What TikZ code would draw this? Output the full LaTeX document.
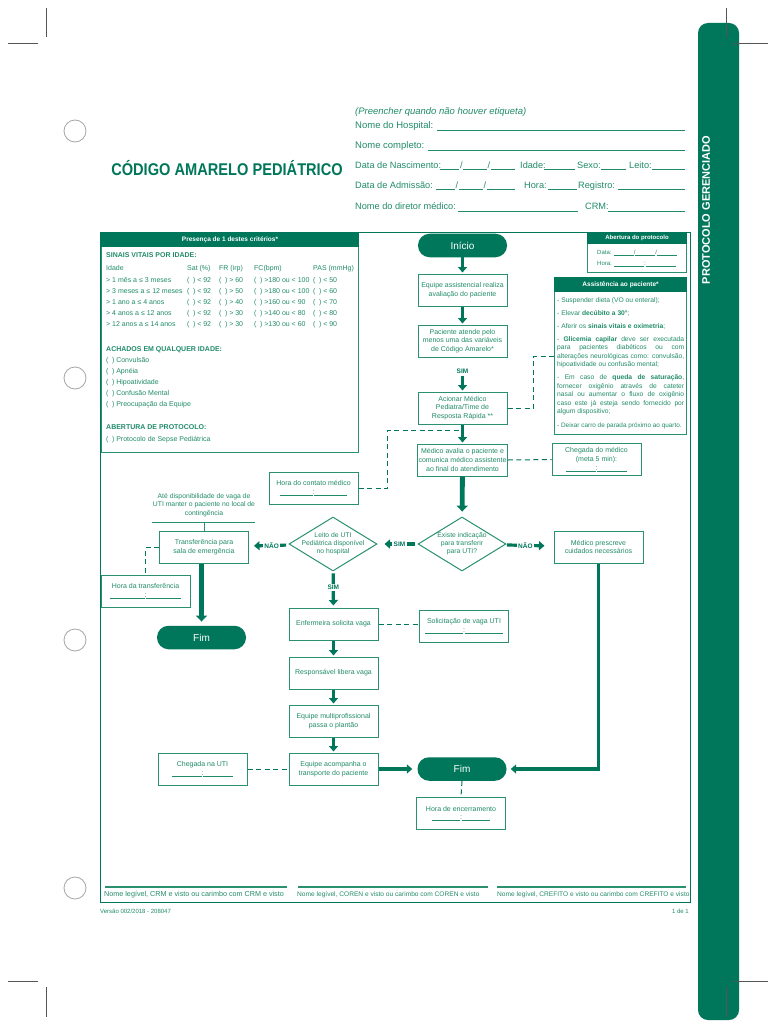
\documentclass[tikz,border=0pt]{standalone}
\usepackage{fontspec}
\setmainfont{Liberation Sans}
\usetikzlibrary{shapes.geometric,arrows.meta,calc}
\definecolor{gdark}{HTML}{00775B}
\definecolor{gtext}{HTML}{208B6A}
\definecolor{gline}{HTML}{2A9070}
\definecolor{cropc}{HTML}{555555}
\newcommand{\fsz}[2]{\fontsize{#1pt}{#2pt}\selectfont}
\newcommand{\bl}[1]{\rule[-1.3pt]{#1pt}{0.6pt}}
\newcommand{\fl}[3]{\draw[fline] (#1,#3+1.3) -- (#2,#3+1.3);}
\tikzset{
  panel/.style={draw=gline, line width=1.1pt, inner sep=0pt, anchor=north west},
  box/.style={draw=gline, line width=1pt, text=gtext, font=\fsz{7}{8.7}, align=center, inner sep=1pt, minimum width=89pt, minimum height=32pt},
  pill/.style={fill=gdark, rounded corners=11.5pt, text=white, font=\fsz{10}{12}, minimum width=89pt, minimum height=23.5pt, inner sep=0pt},
  diam/.style={diamond, draw=gline, line width=1pt, minimum width=88pt, minimum height=54pt, inner sep=0pt},
  dtext/.style={text=gtext, font=\fsz{6.8}{7.8}, align=center, inner sep=0pt},
  flowarrow/.style={draw=gdark, line width=3.2pt, -{Triangle[width=9pt,length=5.5pt]}},
  bigarrow/.style={draw=gdark, line width=4.8pt, -{Triangle[width=11pt,length=6pt]}},
  dashlink/.style={draw=gdark, line width=1pt, dash pattern=on 5pt off 3.5pt},
  lbl/.style={fill=white, text=gdark, font=\bfseries\fsz{6.5}{7}, inner sep=1.5pt},
  tcell/.style={anchor=base west, inner sep=0pt, font=\fsz{7}{8}, text=gtext},
  tbold/.style={tcell, font=\bfseries\fsz{7}{8}},
  hdr/.style={text=white, font=\bfseries\fsz{6.5}{7}, inner sep=0pt},
  field/.style={anchor=base west, inner sep=0pt, font=\fsz{9.2}{11}, text=gtext},
  fline/.style={draw=gtext, line width=0.6pt},
  cropm/.style={draw=cropc, line width=1pt},
  hole/.style={draw=gray!70, line width=0.8pt},
  sigline/.style={draw=gline, line width=1.3pt},
  sigtext/.style={text=gtext, font=\fsz{6.6}{8}, inner sep=0pt, anchor=base west},
}
\begin{document}
\begin{tikzpicture}[x=1pt,y=-1pt]
\useasboundingbox (0,0) rectangle (768,1024);
\fill[white] (0,0) rectangle (768,1024);

% side tab
\fill[gdark, rounded corners=10pt] (698,23) rectangle (739,1020);
\node[rotate=90, text=white, font=\bfseries\fsz{11}{13}, inner sep=0pt] (tabtxt) at (706,210) {PROTOCOLO GERENCIADO};

% crop marks
\draw[cropm] (46,8) -- (46,37);
\draw[cropm] (8,44) -- (38,44);
\draw[cropm] (726,8) -- (726,37);
\draw[cropm] (733,44) -- (768,44);
\draw[cropm] (46,987) -- (46,1017);
\draw[cropm] (8,981) -- (38,981);
\draw[cropm] (726,987) -- (726,1017);
\draw[cropm] (733,981) -- (768,981);

% punch holes
\foreach \yy in {131,378,640,888} \draw[hole] (75,\yy) circle[radius=11pt];

% title
\node[font=\bfseries\fsz{17}{20}, text=gdark, inner sep=0pt] (title) at (227,168) {\scalebox{0.86}[1]{CÓDIGO AMARELO PEDIÁTRICO}};

% header fields
\node[field, font=\itshape\fsz{9.5}{11}] (h0) at (355,114.5) {(Preencher quando não houver etiqueta)};
\node[field, font=\fsz{9.5}{11}] (h1) at (355,129) {Nome do Hospital:};
\fl{437}{685}{129}
\node[field, font=\fsz{9.5}{11}] (h2) at (355,149) {Nome completo:};
\fl{428}{685}{149}
\node[field] (h3a) at (355,168.5) {Data de Nascimento:};
\fl{440}{459}{168.5}
\node[field] (h3s1) at (460,168.5) {/};
\fl{463}{487}{168.5}
\node[field] (h3s2) at (487.5,168.5) {/};
\fl{491}{515}{168.5}
\node[field] (h3b) at (520,168.5) {Idade:};
\fl{544}{575}{168.5}
\node[field] (h3c) at (577,168.5) {Sexo:};
\fl{601}{626}{168.5}
\node[field] (h3d) at (629,168.5) {Leito:};
\fl{652}{685}{168.5}
\node[field] (h4a) at (355,188.5) {Data de Admissão:};
\fl{436}{455}{188.5}
\node[field] (h4s1) at (455.5,188.5) {/};
\fl{459}{483}{188.5}
\node[field] (h4s2) at (483.5,188.5) {/};
\fl{487}{515}{188.5}
\node[field] (h4b) at (524,188.5) {Hora:};
\fl{548}{577}{188.5}
\node[field] (h4c) at (578,188.5) {Registro:};
\fl{618}{685}{188.5}
\node[field] (h5a) at (355,210) {Nome do diretor médico:};
\fl{458}{578}{210}
\node[field] (h5b) at (585,210) {CRM:};
\fl{608}{685}{210}

% main frame
\node[draw=gdark, line width=1.4pt, minimum width=590pt, minimum height=670pt, anchor=north west, inner sep=0pt] (frame) at (100,232) {};

% criteria panel
\node[panel, minimum width=257pt, minimum height=219pt] (crit) at (101,233) {};
\fill[gdark] (crit.north west) rectangle ($(crit.north east)+(0,14)$);
\node[hdr] (crithdr) at ($(crit.north)+(0,7)$) {Presença de 1 destes critérios*};
\node[tbold] (sv) at (106,258) {SINAIS VITAIS POR IDADE:};
\node[tcell] (ch1) at (106,270.5) {Idade};
\node[tcell] (ch2) at (187,270.5) {Sat (\%)};
\node[tcell] (ch3) at (219,270.5) {FR (irp)};
\node[tcell] (ch4) at (254,270.5) {FC(bpm)};
\node[tcell] (ch5) at (313,270.5) {PAS (mmHg)};
\foreach \yy/\ca/\cb/\cc/\cd/\ce [count=\i] in {
  282.5/{> 1 mês a ≤ 3 meses}/{< 92}/{> 60}/{>180 ou < 100}/{< 50},
  293.5/{> 3 meses a ≤ 12 meses}/{< 92}/{> 50}/{>180 ou < 100}/{< 60},
  304.5/{> 1 ano a ≤ 4 anos}/{< 92}/{> 40}/{>160 ou < 90}/{< 70},
  315.5/{> 4 anos a ≤ 12 anos}/{< 92}/{> 30}/{>140 ou < 80}/{< 80},
  326.5/{> 12 anos a ≤ 14 anos}/{< 92}/{> 30}/{>130 ou < 60}/{< 90}}{
  \node[tcell] (r\i a) at (106,\yy) {\ca};
  \node[tcell] (r\i b) at (187,\yy) {(\enspace) \cb};
  \node[tcell] (r\i c) at (219,\yy) {(\enspace) \cc};
  \node[tcell] (r\i d) at (254,\yy) {(\enspace) \cd};
  \node[tcell] (r\i e) at (313,\yy) {(\enspace) \ce};
}
\node[tbold] (ach) at (106,351.5) {ACHADOS EM QUALQUER IDADE:};
\foreach \yy/\tx [count=\i] in {362.5/Convulsão, 373.5/Apnéia, 384.5/Hipoatividade, 395.5/Confusão Mental, 406.5/Preocupação da Equipe}{
  \node[tcell] (a\i) at (106,\yy) {(\enspace) \tx};
}
\node[tbold] (abp) at (106,429.5) {ABERTURA DE PROTOCOLO:};
\node[tcell] (sepse) at (106,441.5) {(\enspace) Protocolo de Sepse Pediátrica};

% abertura do protocolo
\node[panel, minimum width=99pt, minimum height=39pt] (abert) at (587,233) {};
\fill[gdark] (abert.north west) rectangle ($(abert.north east)+(0,10.5)$);
\node[hdr, font=\bfseries\fsz{6}{7}] (aberthdr) at ($(abert.north)+(0,5.3)$) {Abertura do protocolo};
\node[tcell, font=\fsz{6}{7}] (adata) at (597,254.5) {Data: \bl{20}/\bl{20}/\bl{20}};
\node[tcell, font=\fsz{6}{7}] (ahora) at (597,265.5) {Hora: \bl{30}:\bl{30}};

% assistencia ao paciente
\node[panel, minimum width=132pt, minimum height=157pt] (assist) at (554,277) {};
\fill[gdark] (assist.north west) rectangle ($(assist.north east)+(0,15)$);
\node[hdr] (assisthdr) at ($(assist.north)+(0,7.5)$) {Assistência ao paciente*};
\node[anchor=north west, text width=127pt, inner sep=0pt, text=gtext, font=\fsz{6.7}{8.5}, align=justify] (assisttxt) at (557,297) {%
\setlength{\parskip}{4.6pt}\setlength{\parindent}{0pt}%
- Suspender dieta (VO ou enteral);\par
- Elevar \textbf{decúbito a 30°};\par
- Aferir os \textbf{sinais vitais e oximetria};\par
- \textbf{Glicemia capilar} deve ser executada\linebreak para pacientes diabéticos ou com\linebreak alterações neurológicas como: convulsão,\linebreak hipoatividade ou confusão mental;\par
- Em caso de \textbf{queda de saturação},\linebreak fornecer oxigênio através de cateter\linebreak nasal ou aumentar o fluxo de oxigênio\linebreak caso este já esteja sendo fornecido por\linebreak algum dispositivo;\par
{\fsz{6.4}{8.5}- Deixar carro de parada próximo ao quarto.\par}};

% flow nodes
\node[pill] (inicio) at (462.5,245.5) {Início};
\node[box] (b1) at (462.5,290) {Equipe assistencial realiza\\avaliação do paciente};
\node[box] (b2) at (462.5,341) {Paciente atende pelo\\menos uma das variáveis\\de Código Amarelo*};
\node[lbl] (sim1) at (462.5,371.5) {SIM};
\node[box] (b3) at (462.5,408) {Acionar Médico\\Pediatra/Time de\\Resposta Rápida **};
\node[box] (b4) at (462.5,460) {Médico avalia o paciente e\\comunica médico assistente\\ao final do atendimento};
\node[box] (chegmed) at (596.5,459.5) {Chegada do médico\\(meta 5 min):\\\bl{30}:\bl{30}};
\node[box] (hcont) at (313.5,488) {Hora do contato médico\\\bl{33}:\bl{33}};

\node[diam] (d1) at (462,544) {};
\node[dtext] (d1t) at (d1.center) {Existe indicação\\para transferir\\para UTI?};
\node[diam] (d2) at (333,544) {};
\node[dtext] (d2t) at (d2.center) {Leito de UTI\\Pediátrica disponível\\no hospital};
\node[box] (presc) at (598.5,547) {Médico prescreve\\cuidados necessários};
\node[box] (transf) at (204,547) {Transferência para\\sala de emergência};
\node[dtext, font=\fsz{6.8}{8.5}] (ate) at (204,505) {Até disponibilidade de vaga de\\UTI manter o paciente no local de\\contingência};
\coordinate (brl) at (152,522);
\coordinate (brr) at (255,522);
\coordinate (brm) at (204,522);
\node[box] (htransf) at (145.5,591) {Hora da transferência\\\bl{35}:\bl{35}};
\node[pill] (fim1) at (201.5,637.5) {Fim};

\node[box] (enf) at (333.5,624) {Enfermeira solicita vaga};
\node[box] (solic) at (464,626) {Solicitação de vaga UTI\\\bl{38}:\bl{38}};
\node[box] (resp) at (333.5,673) {Responsável libera vaga};
\node[box] (multi) at (333.5,721) {Equipe multiprofissional\\passa o plantão};
\node[box] (acomp) at (333.5,769) {Equipe acompanha o\\transporte do paciente};
\node[box] (cheguti) at (202.5,769) {Chegada na UTI\\\bl{30}:\bl{30}};
\node[pill] (fim2) at (462,769) {Fim};
\node[box] (henc) at (461,813.5) {Hora de encerramento\\\bl{28}:\bl{28}};

% solid connectors
\draw[flowarrow, shorten >=1pt] (inicio) -- (b1);
\draw[flowarrow, shorten >=1pt] (b1) -- (b2);
\draw[flowarrow, shorten >=1pt] (sim1) -- (b3);
\draw[flowarrow, shorten >=1pt] (b3) -- (b4);
\draw[bigarrow, shorten >=5pt] (b4) -- (d1);
\draw[flowarrow, shorten >=7pt, shorten <=3pt] (d1) -- node[lbl, pos=0.45] (sim2) {SIM} (d2);
\draw[flowarrow, shorten >=9pt, shorten <=2pt] (d1) -- node[lbl, pos=0.42] (nao1) {NÃO} (presc);
\draw[flowarrow, shorten >=5pt, shorten <=4pt] (d2) -- node[lbl, pos=0.45] (nao2) {NÃO} (transf);
\draw[flowarrow, shorten >=2pt, shorten <=2pt] (d2) -- node[lbl, pos=0.45] (sim3) {SIM} (enf);
\draw[bigarrow, shorten >=4pt] (transf.south -| fim1.north) -- (fim1.north);
\draw[flowarrow, shorten >=1pt] (enf) -- (resp);
\draw[flowarrow, shorten >=1pt] (resp) -- (multi);
\draw[flowarrow, shorten >=1pt] (multi) -- (acomp);
\draw[flowarrow, shorten >=5pt] (acomp) -- (fim2);
\draw[flowarrow, shorten >=4pt] (presc.south) |- (fim2.east);
\draw[draw=gline, line width=1pt] (brl) -- (brr);
\draw[draw=gline, line width=1pt] (brm) -- (transf.north);

% dashed connectors
\coordinate (j1) at (462.5,430);
\draw[dashlink] (b3.east) -- ++(26,0) |- (assist.west);
\draw[dashlink] (b4.east) -- (chegmed.west);
\draw[dashlink] (hcont.east) -- ++(29,0) |- (j1);
\draw[dashlink] (transf.west) -| (htransf.north);
\draw[dashlink] (enf.east) -- (enf.east -| solic.west);
\draw[dashlink] (cheguti.east) -- (acomp.west);
\draw[dashlink] (fim2.south) -- (henc.north);

% signatures
\draw[sigline] (105,887) -- (287,887);
\draw[sigline] (298,887) -- (488,887);
\draw[sigline] (497,887) -- (686,887);
\node[sigtext, font=\fsz{7.2}{8}] (s1) at (104,896) {Nome legível, CRM e visto ou carimbo com CRM e visto};
\node[sigtext] (s2) at (297,896) {Nome legível, COREN e visto ou carimbo com COREN e visto};
\node[sigtext] (s3) at (497,896) {Nome legível, CREFITO e visto ou carimbo com CREFITO e visto};
\node[anchor=base west, inner sep=0pt, text=gtext, font=\fsz{6}{7}] (versao) at (100,913) {Versão 002/2018 - 208047};
\node[anchor=base east, inner sep=0pt, text=gtext, font=\fsz{6}{7}] (pag) at (689,913) {1 de 1};
\end{tikzpicture}
\end{document}
